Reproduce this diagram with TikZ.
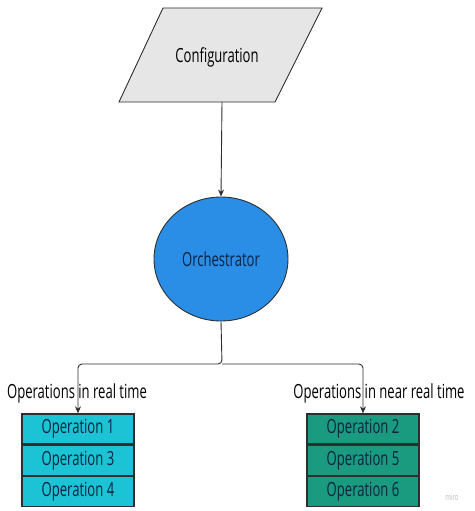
\documentclass[tikz,border=0pt]{standalone}
\usepackage{fontspec}
\setmainfont[FakeStretch=0.67]{Open Sans}
\usetikzlibrary{arrows.meta,shapes.geometric}
\definecolor{linegray}{HTML}{2E2E2E}
\definecolor{cfgfill}{HTML}{E6E6E6}
\definecolor{orchblue}{HTML}{2A8DE6}
\definecolor{rtcyan}{HTML}{1BC3D4}
\definecolor{nrtteal}{HTML}{1A9B80}
\definecolor{textnavy}{HTML}{0E2240}
\tikzset{
  conn/.style={draw=linegray, line width=0.9pt, -{Stealth[length=7pt,width=6pt]}},
  opbox/.style={draw=linegray, line width=1.3pt, minimum width=112pt, minimum height=30pt,
    inner sep=0pt, text=textnavy, font=\fontsize{19.5}{19.5}\selectfont},
  grouplabel/.style={text=black, font=\fontsize{19.5}{19.5}\selectfont, inner sep=0pt},
}
\begin{document}
\begin{tikzpicture}[x=1pt,y=-1pt]
\useasboundingbox (0,0) rectangle (474,511);

% input parallelogram
\draw[fill=cfgfill, draw=linegray, line width=0.9pt]
  (163,8) -- (322,8) -- (275,102) -- (119,102) -- cycle;
\node[font=\fontsize{19.5}{19.5}\selectfont, text=black] (cfg) at (217,57) {Configuration};
\coordinate (cfgbottom) at (222,102);

% orchestrator
\node[draw=linegray, line width=0.9pt, fill=orchblue, ellipse, minimum width=134pt,
  minimum height=124pt, inner sep=0pt, text=textnavy, font=\fontsize{19.5}{19.5}\selectfont]
  (orch) at (221,259) {Orchestrator};

\draw[conn] (cfgbottom) -- (orch.north);

% operation stacks
\node[opbox, fill=rtcyan] (op1) at (78,429) {Operation 1};
\node[opbox, fill=rtcyan, anchor=north] (op3) at (op1.south) {Operation 3};
\node[opbox, fill=rtcyan, anchor=north] (op4) at (op3.south) {Operation 4};

\node[opbox, fill=nrtteal] (op2) at (363,429) {Operation 2};
\node[opbox, fill=nrtteal, anchor=north] (op5) at (op2.south) {Operation 5};
\node[opbox, fill=nrtteal, anchor=north] (op6) at (op5.south) {Operation 6};

% group labels
\node[grouplabel] (rtlabel) at (77,393) {Operations in real time};
\node[grouplabel] (nrtlabel) at (379,393) {Operations in near real time};

% branching connectors
\coordinate (split) at (222,364);
\draw[conn, rounded corners=4pt] (orch.south) -- (split) -| (op1.north);
\draw[conn, rounded corners=4pt] (split) -| (op2.north);

\node[text=gray!55, font=\fontsize{9}{9}\selectfont] (brand) at (452,497) {miro};
\end{tikzpicture}
\end{document}
